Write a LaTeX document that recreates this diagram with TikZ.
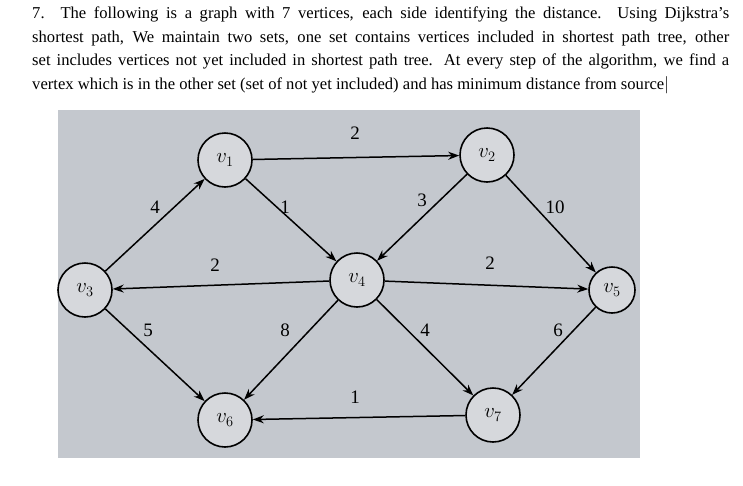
\documentclass[tikz,border=0pt]{standalone}
\usepackage{fontspec}
\setmainfont{Liberation Serif}
\usetikzlibrary{arrows.meta}
\definecolor{photo}{RGB}{196,200,206}
\definecolor{nodefill}{RGB}{214,216,220}
\tikzset{
  vert/.style={circle,draw,line width=1.6pt,minimum size=54pt,fill=nodefill,font=\fontsize{20}{20}\selectfont},
  edge/.style={line width=1.5pt,-{Stealth[length=11pt,width=8pt]}},
  wt/.style={font=\fontsize{19}{19}\selectfont}
}
\begin{document}
\begin{tikzpicture}[x=1pt,y=-1pt]
\useasboundingbox (0,0) rectangle (743,485);
\node[anchor=north west,inner sep=0pt,text width=697pt,align=justify,font=\fontsize{16.6}{23.5}\selectfont] (txt) at (32,7)
{7. The following is a graph with 7 vertices, each side identifying the distance. Using Dijkstra's\linebreak
shortest path, We maintain two sets, one set contains vertices included in shortest path tree, other\linebreak
set includes vertices not yet included in shortest path tree. At every step of the algorithm, we find a\linebreak
vertex which is in the other set (set of not yet included) and has minimum distance from source$|$};
\fill[photo] (58,110) rectangle (640,458);
\node[vert] (v1) at (225,160) {$v_1$};
\node[vert] (v2) at (487,155) {$v_2$};
\node[vert] (v3) at (85,290) {$v_3$};
\node[vert] (v4) at (357,280) {$v_4$};
\node[vert,minimum size=46pt] (v5) at (612,290) {$v_5$};
\node[vert] (v6) at (225,420) {$v_6$};
\node[vert] (v7) at (493,415) {$v_7$};
\draw[edge] (v3) -- (v1);
\draw[edge] (v1) -- (v2);
\draw[edge] (v1) -- (v4);
\draw[edge] (v2) -- (v4);
\draw[edge] (v2) -- (v5);
\draw[edge] (v4) -- (v3);
\draw[edge] (v4) -- (v5);
\draw[edge] (v3) -- (v6);
\draw[edge] (v4) -- (v6);
\draw[edge] (v4) -- (v7);
\draw[edge] (v7) -- (v6);
\draw[edge] (v5) -- (v7);
\node[wt] (w1) at (355,133) {2};
\node[wt] (w2) at (155,207) {4};
\node[wt] (w3) at (285,207) {1};
\node[wt] (w4) at (422,200) {3};
\node[wt] (w5) at (555,207) {10};
\node[wt] (w6) at (215,265) {2};
\node[wt] (w7) at (490,263) {2};
\node[wt] (w8) at (148,330) {5};
\node[wt] (w9) at (285,330) {8};
\node[wt] (w10) at (425,330) {4};
\node[wt] (w11) at (558,330) {6};
\node[wt] (w12) at (355,397) {1};
\end{tikzpicture}
\end{document}
